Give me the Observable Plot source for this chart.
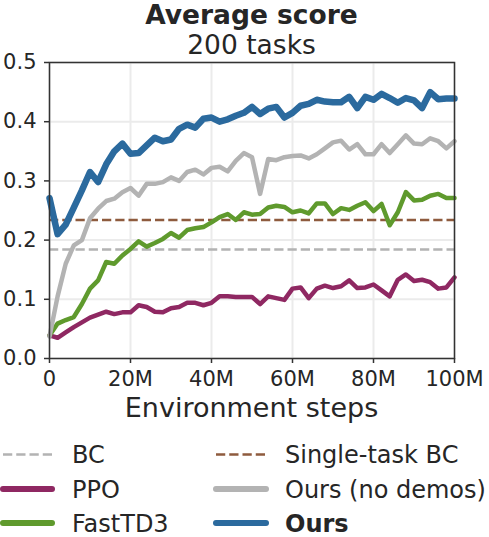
<!DOCTYPE html>
<html>
<head>
<meta charset="utf-8">
<script src="https://cdn.jsdelivr.net/npm/d3@7"></script>
<script src="https://cdn.jsdelivr.net/npm/@observablehq/plot@0.6"></script>
<style>
  html, body { margin: 0; padding: 0; background: white; }
  #root { position: relative; width: 489px; height: 537px; overflow: hidden; font-family: "DejaVu Sans", sans-serif; color: #262626; background: white; }
  .t { position: absolute; left: 49px; width: 405px; text-align: center; white-space: nowrap; }
  #title { top: 2px; font-size: 26.5px; line-height: 26.5px; font-weight: bold; }
  #subtitle { top: 31.5px; font-size: 26.5px; line-height: 26.5px; }
  #xlabel { top: 394px; font-size: 27px; line-height: 27px; }
  #chart { position: absolute; left: 0; top: 50px; }
  #legend { position: absolute; left: 0; top: 434px; }
</style>
</head>
<body>
<div id="root">
  <div id="chart"></div>
  <div id="title" class="t">Average score</div>
  <div id="subtitle" class="t">200 tasks</div>
  <div id="xlabel" class="t">Environment steps</div>
  <svg id="legend" width="489" height="103"></svg>
</div>
<script>
// Environment steps (millions)
const steps = [0,2,4,6,8,10,12,14,16,18,20,22,24,26,28,30,32,34,36,38,40,42,44,46,48,50,
  52,54,56,58,60,62,64,66,68,70,72,74,76,78,80,82,84,86,88,90,92,94,96,98,100];

const ours = [0.271,0.210,0.226,0.255,0.284,0.315,0.298,0.328,0.350,0.363,0.346,0.347,0.360,0.373,0.367,0.370,0.388,0.395,0.390,0.405,0.407,0.400,0.404,0.410,0.415,0.425,
  0.413,0.422,0.425,0.407,0.415,0.427,0.430,0.437,0.434,0.433,0.433,0.442,0.423,0.442,0.437,0.447,0.440,0.432,0.440,0.436,0.423,0.450,0.438,0.439,0.439];

const oursNoDemos = [0.037,0.105,0.160,0.191,0.200,0.237,0.253,0.266,0.270,0.281,0.288,0.275,0.295,0.295,0.298,0.306,0.300,0.315,0.319,0.311,0.322,0.324,0.316,0.334,0.347,0.340,
  0.278,0.337,0.335,0.340,0.342,0.343,0.338,0.345,0.355,0.365,0.368,0.353,0.362,0.345,0.345,0.362,0.347,0.362,0.377,0.363,0.362,0.372,0.367,0.355,0.367];

const fastTD3 = [0.039,0.059,0.065,0.070,0.092,0.118,0.132,0.163,0.160,0.174,0.185,0.198,0.189,0.195,0.202,0.212,0.204,0.217,0.220,0.222,0.230,0.239,0.244,0.234,0.247,0.243,
  0.244,0.255,0.258,0.256,0.247,0.250,0.245,0.262,0.262,0.244,0.254,0.251,0.258,0.264,0.249,0.261,0.225,0.247,0.281,0.267,0.268,0.275,0.278,0.271,0.271];

const ppo = [0.039,0.035,0.044,0.053,0.061,0.069,0.074,0.079,0.075,0.078,0.078,0.090,0.087,0.079,0.078,0.085,0.087,0.094,0.094,0.090,0.094,0.105,0.105,0.104,0.104,0.104,
  0.092,0.105,0.102,0.099,0.118,0.120,0.102,0.118,0.123,0.119,0.122,0.132,0.119,0.120,0.125,0.115,0.105,0.133,0.142,0.131,0.133,0.129,0.118,0.120,0.137];

const bcLevel = 0.184;
const singleTaskBcLevel = 0.234;

const xTicks = [0, 20, 40, 60, 80, 100];
const xTickLabels = ["0", "20M", "40M", "60M", "80M", "100M"];
const yTicks = [0, 0.1, 0.2, 0.3, 0.4, 0.5];
const yTickLabels = ["0.0", "0.1", "0.2", "0.3", "0.4", "0.5"];

const colors = {
  bc: "#b3b3b3",
  single: "#8e5b3e",
  ppo: "#8f2862",
  noDemos: "#b3b3b3",
  fast: "#5f9a2d",
  ours: "#2b6a9e"
};

const toRows = (vals) => steps.map((s, i) => ({x: s, y: vals[i]}));

const chart = Plot.plot({
  width: 489,
  height: 345,
  marginLeft: 49,
  marginRight: 35,
  marginTop: 12,
  marginBottom: 37,
  style: {fontFamily: "DejaVu Sans", fontSize: "21px", color: "#262626", background: "transparent", overflow: "visible"},
  x: {domain: [0, 100]},
  y: {domain: [0, 0.5]},
  marks: [
    Plot.gridX(xTicks, {stroke: "#ebebeb", strokeOpacity: 1, strokeWidth: 2}),
    Plot.gridY(yTicks, {stroke: "#ebebeb", strokeOpacity: 1, strokeWidth: 2}),
    Plot.ruleY([bcLevel], {stroke: colors.bc, strokeWidth: 2.5, strokeDasharray: "9.25,4"}),
    Plot.ruleY([singleTaskBcLevel], {stroke: colors.single, strokeWidth: 2.5, strokeDasharray: "9.25,4"}),
    Plot.line(toRows(ppo), {x: "x", y: "y", stroke: colors.ppo, strokeWidth: 4.5, strokeLinejoin: "round", strokeLinecap: "round"}),
    Plot.line(toRows(fastTD3), {x: "x", y: "y", stroke: colors.fast, strokeWidth: 4.5, strokeLinejoin: "round", strokeLinecap: "round"}),
    Plot.line(toRows(oursNoDemos), {x: "x", y: "y", stroke: colors.noDemos, strokeWidth: 4.5, strokeLinejoin: "round", strokeLinecap: "round"}),
    Plot.line(toRows(ours), {x: "x", y: "y", stroke: colors.ours, strokeWidth: 6.5, strokeLinejoin: "round", strokeLinecap: "round"}),
    Plot.frame({stroke: "#333333", strokeWidth: 1.5}),
    Plot.axisX(xTicks, {tickSize: 5, tickPadding: 8, tickFormat: (d, i) => xTickLabels[i], label: null, stroke: "#333333", strokeWidth: 1.5, fill: "#262626"}),
    Plot.axisY(yTicks, {tickSize: 5, tickPadding: 8, tickFormat: (d, i) => yTickLabels[i], label: null, stroke: "#333333", strokeWidth: 1.5, fill: "#262626"})
  ]
});
document.getElementById("chart").appendChild(chart);

// Legend
const legendItems = [
  {label: "BC", color: colors.bc, dash: "9.25,4", width: 2.5, col: 0, row: 0, bold: false},
  {label: "PPO", color: colors.ppo, dash: null, width: 6, col: 0, row: 1, bold: false},
  {label: "FastTD3", color: colors.fast, dash: null, width: 6, col: 0, row: 2, bold: false},
  {label: "Single-task BC", color: colors.single, dash: "9.25,4", width: 2.5, col: 1, row: 0, bold: false},
  {label: "Ours (no demos)", color: colors.noDemos, dash: null, width: 6, col: 1, row: 1, bold: false},
  {label: "Ours", color: colors.ours, dash: null, width: 6, col: 1, row: 2, bold: true}
];
const colX = [{sx0: 3, sx1: 52, tx: 72}, {sx0: 216, sx1: 266, tx: 285}];
const rowY = [20.5, 55, 89];
const leg = d3.select("#legend");
for (const it of legendItems) {
  const c = colX[it.col], y = rowY[it.row];
  const ln = leg.append("line").attr("x1", c.sx0).attr("x2", c.sx1).attr("y1", y).attr("y2", y)
    .attr("stroke", it.color).attr("stroke-width", it.width)
    .attr("stroke-linecap", it.dash ? "butt" : "round");
  if (it.dash) ln.attr("stroke-dasharray", it.dash);
  leg.append("text").attr("x", c.tx).attr("y", y + 8.6)
    .attr("font-family", "DejaVu Sans").attr("font-size", 24)
    .attr("font-weight", it.bold ? "bold" : "normal")
    .attr("fill", "#262626").text(it.label);
}
</script>
</body>
</html>
